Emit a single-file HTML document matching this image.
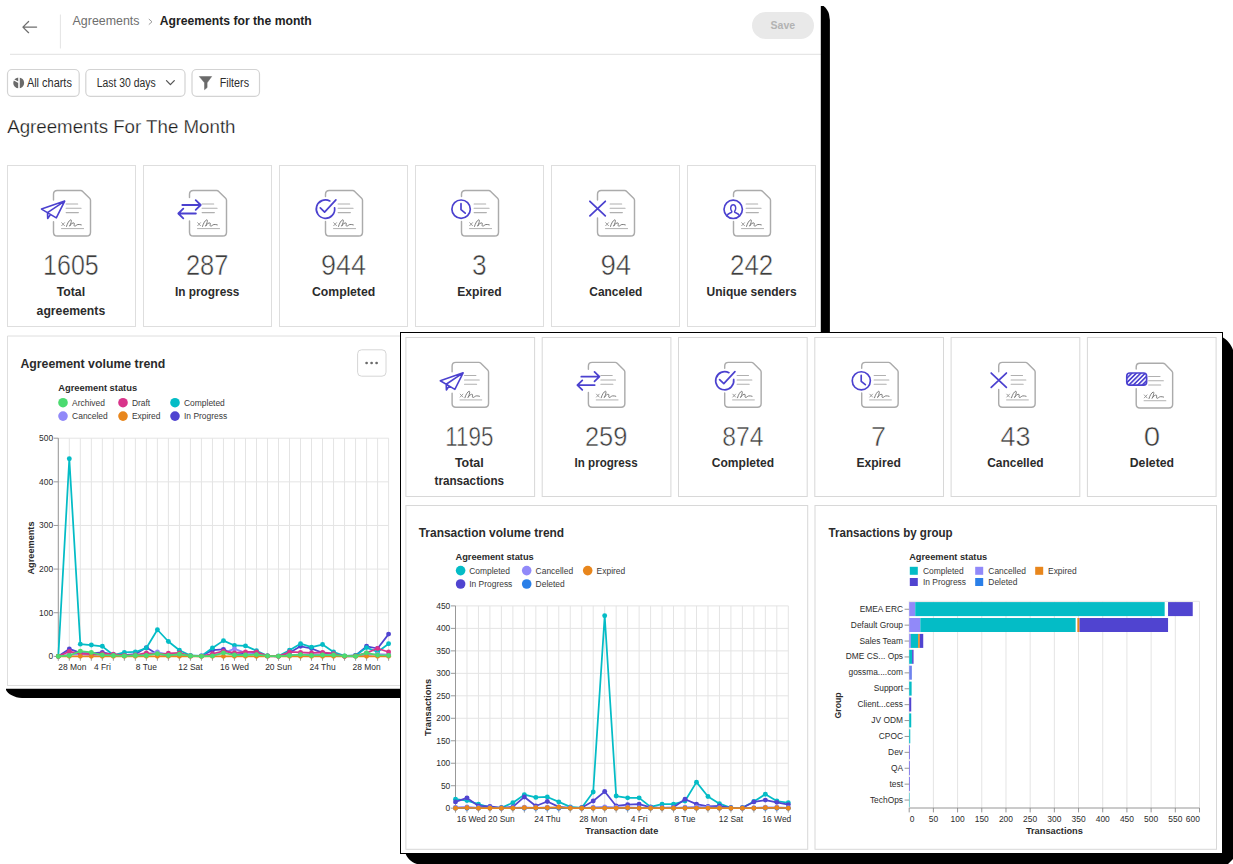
<!DOCTYPE html>
<html><head><meta charset="utf-8"><title>Agreements for the month</title>
<style>
html,body{margin:0;padding:0;background:#fff;}
body{width:1233px;height:864px;overflow:hidden;}
svg{display:block;font-family:"Liberation Sans", sans-serif;}
text{white-space:pre;}
.thin{stroke:#fff;stroke-width:0.5px;paint-order:fill stroke;}
.thin2{stroke:#fff;stroke-width:0.25px;paint-order:fill stroke;}
</style></head><body>
<svg width="1233" height="864" viewBox="0 0 1233 864">
<defs>
<pattern id="hatch" width="3.2" height="3.2" patternUnits="userSpaceOnUse" patternTransform="rotate(-45)">
<rect width="3.2" height="3.2" fill="#fff"/><rect width="3.2" height="1.7" fill="#4b41cf"/>
</pattern>
</defs>
<rect width="1233" height="864" fill="#fff"/>

<g id="panel1">
<path d="M36.6,27.1 H23 M28.6,21.5 L22.9,27.1 L28.6,32.7" fill="none" stroke="#6e6e6e" stroke-width="1.25" stroke-linecap="round" stroke-linejoin="round"/>
<line x1="60.4" y1="14.5" x2="60.4" y2="48.5" stroke="#e4e4e4" stroke-width="1" />
<line x1="10" y1="54.3" x2="821" y2="54.3" stroke="#e6e6e6" stroke-width="1.2" />
<text x="72.6" y="25.3" font-size="13.2" fill="#6e6e6e" font-weight="normal" text-anchor="start" textLength="66.9" lengthAdjust="spacingAndGlyphs" >Agreements</text>
<path d="M148.8,19 L152,21.8 L148.8,24.6" fill="none" stroke="#8e8e8e" stroke-width="0.9"/>
<text x="159.8" y="25.3" font-size="13.2" fill="#222" font-weight="bold" text-anchor="start" textLength="152" lengthAdjust="spacingAndGlyphs" >Agreements for the month</text>
<rect x="752" y="12" width="62" height="27" fill="#e9e9e9" rx="13.5" />
<text x="782.9" y="28.8" font-size="11.6" fill="#b3b3b3" font-weight="bold" text-anchor="middle" textLength="24.6" lengthAdjust="spacingAndGlyphs" >Save</text>
<rect x="7.5" y="69.5" width="71.7" height="26.8" fill="#fff" stroke="#d3d3d3" stroke-width="1.2" rx="4.5" />
<g transform="translate(18.7,82.9)"><circle r="5.45" fill="#6a6a6a"/><path d="M0.3,-6 V6" stroke="#fff" stroke-width="1.6"/><path d="M-5.6,-3.4 L0,-0.6" stroke="#fff" stroke-width="1.35"/></g>
<text x="26.9" y="86.8" font-size="12" fill="#2c2c2c" font-weight="normal" text-anchor="start" textLength="45" lengthAdjust="spacingAndGlyphs" >All charts</text>
<rect x="85.8" y="69.5" width="99.2" height="26.8" fill="#fff" stroke="#d3d3d3" stroke-width="1.2" rx="4.5" />
<text x="96.8" y="86.8" font-size="12" fill="#2c2c2c" font-weight="normal" text-anchor="start" textLength="58.9" lengthAdjust="spacingAndGlyphs" >Last 30 days</text>
<path d="M166.5,80.6 L170.4,84.6 L174.3,80.6" fill="none" stroke="#555" stroke-width="1.3" stroke-linecap="round" stroke-linejoin="round"/>
<rect x="192" y="69.5" width="67.5" height="26.8" fill="#fff" stroke="#d3d3d3" stroke-width="1.2" rx="4.5" />
<path d="M199.3,76.5 H211.7 L207.1,82.8 V87.6 L204.5,89.7 V82.8 Z" fill="#6a6a6a" stroke="#6a6a6a" stroke-width="0.5" stroke-linejoin="round"/>
<text x="219.7" y="86.8" font-size="12" fill="#2c2c2c" font-weight="normal" text-anchor="start" textLength="29.4" lengthAdjust="spacingAndGlyphs" >Filters</text>
<text x="7.2" y="133.4" font-size="18.6" fill="#1c1c1c" font-weight="normal" text-anchor="start" textLength="228.3" lengthAdjust="spacingAndGlyphs" class="thin2">Agreements For The Month</text>
<rect x="7.5" y="165.5" width="128" height="161" fill="#fff" stroke="#dedede" stroke-width="1" />
<g transform="translate(53.5,190.5) scale(1)" fill="none" stroke-linecap="round" stroke-linejoin="round">
<path d="M0,9.5 V3.8 Q0,0 3.8,0 H27.2 Q28.3,0 29.2,0.9 L36.1,7.8 Q37,8.7 37,9.8 V41.7 Q37,45.5 33.2,45.5 H3.8 Q0,45.5 0,41.7 V31.2" stroke="#ababab" stroke-width="1.45"/>
<path d="M12.6,13.4 H24.2 M12.6,17.8 H27.6 M12.6,22.1 H24.9" stroke="#b0b0b0" stroke-width="1.05"/>
<path d="M8.2,32.2 l2.8,3 M11,32.2 l-2.8,3" stroke="#8c8c8c" stroke-width="0.85"/>
<path d="M13,35.9 C13.8,33 15.6,29.7 17.3,29.3 C18.7,29.3 17.3,33.4 16.1,35.7 C17,33.8 19.6,31.7 20.6,32.5 C21.3,33.2 20,35.2 21,35.6 C22.2,35.8 23,34.3 24.4,34 C25.8,33.8 26.8,34.2 27.8,34.4" stroke="#7c7c7c" stroke-width="1"/>
<path d="M8,38.1 H30.1" stroke="#adadad" stroke-width="0.95"/>
<path d="M11.2,10.6 L-12,18.6 L2.8,27.4 Z M11.2,10.6 L-6,22.2 L-5.8,28 L-3,24" stroke="#4b41cf" stroke-width="1.6"/>
</g>
<text x="70.9" y="275.2" font-size="28.6" fill="#3d3d3d" font-weight="normal" text-anchor="middle" textLength="55.6" lengthAdjust="spacingAndGlyphs" class="thin">1605</text>
<text x="70.9" y="296.3" font-size="12.8" fill="#2b2b2b" font-weight="bold" text-anchor="middle" textLength="28.4" lengthAdjust="spacingAndGlyphs" >Total</text>
<text x="70.9" y="314.5" font-size="12.8" fill="#2b2b2b" font-weight="bold" text-anchor="middle" textLength="68.6" lengthAdjust="spacingAndGlyphs" >agreements</text>
<rect x="143.5" y="165.5" width="128" height="161" fill="#fff" stroke="#dedede" stroke-width="1" />
<g transform="translate(189.5,190.5) scale(1)" fill="none" stroke-linecap="round" stroke-linejoin="round">
<path d="M0,7 V3.8 Q0,0 3.8,0 H27.2 Q28.3,0 29.2,0.9 L36.1,7.8 Q37,8.7 37,9.8 V41.7 Q37,45.5 33.2,45.5 H3.8 Q0,45.5 0,41.7 V30.5" stroke="#ababab" stroke-width="1.45"/>
<path d="M12.6,13.4 H24.2 M12.6,17.8 H27.6 M12.6,22.1 H24.9" stroke="#b0b0b0" stroke-width="1.05"/>
<path d="M8.2,32.2 l2.8,3 M11,32.2 l-2.8,3" stroke="#8c8c8c" stroke-width="0.85"/>
<path d="M13,35.9 C13.8,33 15.6,29.7 17.3,29.3 C18.7,29.3 17.3,33.4 16.1,35.7 C17,33.8 19.6,31.7 20.6,32.5 C21.3,33.2 20,35.2 21,35.6 C22.2,35.8 23,34.3 24.4,34 C25.8,33.8 26.8,34.2 27.8,34.4" stroke="#7c7c7c" stroke-width="1"/>
<path d="M8,38.1 H30.1" stroke="#adadad" stroke-width="0.95"/>
<path d="M-7.2,14.5 H11 M6.2,9.7 L11.2,14.5 L6.2,19.3 M6.4,23 H-11 M-6.2,18.2 L-11.2,23 L-6.2,27.8" stroke="#4b41cf" stroke-width="1.8"/>
</g>
<text x="207.2" y="275.2" font-size="28.6" fill="#3d3d3d" font-weight="normal" text-anchor="middle" textLength="42.6" lengthAdjust="spacingAndGlyphs" class="thin">287</text>
<text x="207.2" y="296.3" font-size="12.8" fill="#2b2b2b" font-weight="bold" text-anchor="middle" textLength="64.4" lengthAdjust="spacingAndGlyphs" >In progress</text>
<rect x="279.5" y="165.5" width="128" height="161" fill="#fff" stroke="#dedede" stroke-width="1" />
<g transform="translate(325.5,190.5) scale(1)" fill="none" stroke-linecap="round" stroke-linejoin="round">
<path d="M0,6 V3.8 Q0,0 3.8,0 H27.2 Q28.3,0 29.2,0.9 L36.1,7.8 Q37,8.7 37,9.8 V41.7 Q37,45.5 33.2,45.5 H3.8 Q0,45.5 0,41.7 V31" stroke="#ababab" stroke-width="1.45"/>
<path d="M12.6,13.4 H24.2 M12.6,17.8 H27.6 M12.6,22.1 H24.9" stroke="#b0b0b0" stroke-width="1.05"/>
<path d="M8.2,32.2 l2.8,3 M11,32.2 l-2.8,3" stroke="#8c8c8c" stroke-width="0.85"/>
<path d="M13,35.9 C13.8,33 15.6,29.7 17.3,29.3 C18.7,29.3 17.3,33.4 16.1,35.7 C17,33.8 19.6,31.7 20.6,32.5 C21.3,33.2 20,35.2 21,35.6 C22.2,35.8 23,34.3 24.4,34 C25.8,33.8 26.8,34.2 27.8,34.4" stroke="#7c7c7c" stroke-width="1"/>
<path d="M8,38.1 H30.1" stroke="#adadad" stroke-width="0.95"/>
<path d="M4.32,10.48 A9.2,9.2 0 1 0 9.11,17.32" stroke="#4b41cf" stroke-width="1.7"/>
<path d="M-5.2,17.4 L-0.9,21.6 L10.4,9.4" stroke="#4b41cf" stroke-width="1.7"/>
</g>
<text x="343.6" y="275.2" font-size="28.6" fill="#3d3d3d" font-weight="normal" text-anchor="middle" textLength="45" lengthAdjust="spacingAndGlyphs" class="thin">944</text>
<text x="343.6" y="296.3" font-size="12.8" fill="#2b2b2b" font-weight="bold" text-anchor="middle" textLength="63.2" lengthAdjust="spacingAndGlyphs" >Completed</text>
<rect x="415.5" y="165.5" width="128" height="161" fill="#fff" stroke="#dedede" stroke-width="1" />
<g transform="translate(461.5,190.5) scale(1)" fill="none" stroke-linecap="round" stroke-linejoin="round">
<path d="M0,6 V3.8 Q0,0 3.8,0 H27.2 Q28.3,0 29.2,0.9 L36.1,7.8 Q37,8.7 37,9.8 V41.7 Q37,45.5 33.2,45.5 H3.8 Q0,45.5 0,41.7 V31" stroke="#ababab" stroke-width="1.45"/>
<path d="M12.6,13.4 H24.2 M12.6,17.8 H27.6 M12.6,22.1 H24.9" stroke="#b0b0b0" stroke-width="1.05"/>
<path d="M8.2,32.2 l2.8,3 M11,32.2 l-2.8,3" stroke="#8c8c8c" stroke-width="0.85"/>
<path d="M13,35.9 C13.8,33 15.6,29.7 17.3,29.3 C18.7,29.3 17.3,33.4 16.1,35.7 C17,33.8 19.6,31.7 20.6,32.5 C21.3,33.2 20,35.2 21,35.6 C22.2,35.8 23,34.3 24.4,34 C25.8,33.8 26.8,34.2 27.8,34.4" stroke="#7c7c7c" stroke-width="1"/>
<path d="M8,38.1 H30.1" stroke="#adadad" stroke-width="0.95"/>
<circle cx="-0.4" cy="18.7" r="9.2" stroke="#4b41cf" stroke-width="1.7"/>
<path d="M-0.5,13.2 V19.2 L3.7,22.6" stroke="#4b41cf" stroke-width="1.7"/>
</g>
<text x="479.4" y="275.2" font-size="28.6" fill="#3d3d3d" font-weight="normal" text-anchor="middle" textLength="14.6" lengthAdjust="spacingAndGlyphs" class="thin">3</text>
<text x="479.4" y="296.3" font-size="12.8" fill="#2b2b2b" font-weight="bold" text-anchor="middle" textLength="44.4" lengthAdjust="spacingAndGlyphs" >Expired</text>
<rect x="551.5" y="165.5" width="128" height="161" fill="#fff" stroke="#dedede" stroke-width="1" />
<g transform="translate(597.5,190.5) scale(1)" fill="none" stroke-linecap="round" stroke-linejoin="round">
<path d="M0,9.5 V3.8 Q0,0 3.8,0 H27.2 Q28.3,0 29.2,0.9 L36.1,7.8 Q37,8.7 37,9.8 V41.7 Q37,45.5 33.2,45.5 H3.8 Q0,45.5 0,41.7 V27.5" stroke="#ababab" stroke-width="1.45"/>
<path d="M12.6,13.4 H24.2 M12.6,17.8 H27.6 M12.6,22.1 H24.9" stroke="#b0b0b0" stroke-width="1.05"/>
<path d="M8.2,32.2 l2.8,3 M11,32.2 l-2.8,3" stroke="#8c8c8c" stroke-width="0.85"/>
<path d="M13,35.9 C13.8,33 15.6,29.7 17.3,29.3 C18.7,29.3 17.3,33.4 16.1,35.7 C17,33.8 19.6,31.7 20.6,32.5 C21.3,33.2 20,35.2 21,35.6 C22.2,35.8 23,34.3 24.4,34 C25.8,33.8 26.8,34.2 27.8,34.4" stroke="#7c7c7c" stroke-width="1"/>
<path d="M8,38.1 H30.1" stroke="#adadad" stroke-width="0.95"/>
<path d="M-7.6,10.8 L7.8,25.4 M7.8,10.8 L-7.6,25.4" stroke="#4b41cf" stroke-width="1.75"/>
</g>
<text x="615.8" y="275.2" font-size="28.6" fill="#3d3d3d" font-weight="normal" text-anchor="middle" textLength="30.8" lengthAdjust="spacingAndGlyphs" class="thin">94</text>
<text x="615.8" y="296.3" font-size="12.8" fill="#2b2b2b" font-weight="bold" text-anchor="middle" textLength="53" lengthAdjust="spacingAndGlyphs" >Canceled</text>
<rect x="687.5" y="165.5" width="128" height="161" fill="#fff" stroke="#dedede" stroke-width="1" />
<g transform="translate(733.5,190.5) scale(1)" fill="none" stroke-linecap="round" stroke-linejoin="round">
<path d="M0,6 V3.8 Q0,0 3.8,0 H27.2 Q28.3,0 29.2,0.9 L36.1,7.8 Q37,8.7 37,9.8 V41.7 Q37,45.5 33.2,45.5 H3.8 Q0,45.5 0,41.7 V31" stroke="#ababab" stroke-width="1.45"/>
<path d="M12.6,13.4 H24.2 M12.6,17.8 H27.6 M12.6,22.1 H24.9" stroke="#b0b0b0" stroke-width="1.05"/>
<path d="M8.2,32.2 l2.8,3 M11,32.2 l-2.8,3" stroke="#8c8c8c" stroke-width="0.85"/>
<path d="M13,35.9 C13.8,33 15.6,29.7 17.3,29.3 C18.7,29.3 17.3,33.4 16.1,35.7 C17,33.8 19.6,31.7 20.6,32.5 C21.3,33.2 20,35.2 21,35.6 C22.2,35.8 23,34.3 24.4,34 C25.8,33.8 26.8,34.2 27.8,34.4" stroke="#7c7c7c" stroke-width="1"/>
<path d="M8,38.1 H30.1" stroke="#adadad" stroke-width="0.95"/>
<circle cx="-0.3" cy="18.8" r="9.2" stroke="#4b41cf" stroke-width="1.65"/>
<path d="M-6.4,25.2 C-6,23.2 -3.6,22.6 -2.2,22 C-1.4,21.6 -1.6,20.8 -2.2,20 C-3.2,18.6 -3.2,14.2 -0.3,14.2 C2.6,14.2 2.6,18.6 1.6,20 C1,20.8 0.8,21.6 1.6,22 C3,22.6 5.4,23.2 5.8,25.2" stroke="#4b41cf" stroke-width="1.45"/>
</g>
<text x="751.6" y="275.2" font-size="28.6" fill="#3d3d3d" font-weight="normal" text-anchor="middle" textLength="43.2" lengthAdjust="spacingAndGlyphs" class="thin">242</text>
<text x="751.6" y="296.3" font-size="12.8" fill="#2b2b2b" font-weight="bold" text-anchor="middle" textLength="90" lengthAdjust="spacingAndGlyphs" >Unique senders</text>
<path d="M7.5,686 V336 H830" fill="none" stroke="#dedede" stroke-width="1"/>
<line x1="7.5" y1="685.5" x2="402" y2="685.5" stroke="#dedede" stroke-width="1" />
<text x="20.4" y="368.4" font-size="13.4" fill="#2b2b2b" font-weight="bold" text-anchor="start" textLength="145" lengthAdjust="spacingAndGlyphs" >Agreement volume trend</text>
<rect x="357.6" y="349.8" width="28.4" height="26.4" fill="#fff" stroke="#d6d6d6" stroke-width="1" rx="4" />
<g fill="#6a6a6a"><circle cx="366.6" cy="363" r="1.35"/><circle cx="371.6" cy="363" r="1.35"/><circle cx="376.6" cy="363" r="1.35"/></g>
<text x="58.3" y="391" font-size="9.4" fill="#2b2b2b" font-weight="bold" text-anchor="start" textLength="78.8" lengthAdjust="spacingAndGlyphs" >Agreement status</text>
<circle cx="63" cy="402.7" r="4.8" fill="#4bdb70"/>
<text x="72.1" y="405.59999999999997" font-size="8.45" fill="#3a3a3a" font-weight="normal" text-anchor="start" >Archived</text>
<circle cx="123" cy="402.7" r="4.8" fill="#d9348b"/>
<text x="131.9" y="405.59999999999997" font-size="8.45" fill="#3a3a3a" font-weight="normal" text-anchor="start" >Draft</text>
<circle cx="175" cy="402.7" r="4.8" fill="#04bcc6"/>
<text x="184" y="405.59999999999997" font-size="8.45" fill="#3a3a3a" font-weight="normal" text-anchor="start" >Completed</text>
<circle cx="63" cy="416.1" r="4.8" fill="#9189f9"/>
<text x="72.1" y="419.0" font-size="8.45" fill="#3a3a3a" font-weight="normal" text-anchor="start" >Canceled</text>
<circle cx="123" cy="416.1" r="4.8" fill="#e8861c"/>
<text x="131.9" y="419.0" font-size="8.45" fill="#3a3a3a" font-weight="normal" text-anchor="start" >Expired</text>
<circle cx="175" cy="416.1" r="4.8" fill="#5044d0"/>
<text x="184" y="419.0" font-size="8.45" fill="#3a3a3a" font-weight="normal" text-anchor="start" >In Progress</text>
<path d="M58.30,438.2 V656.35 M69.31,438.2 V656.35 M80.32,438.2 V656.35 M91.33,438.2 V656.35 M102.34,438.2 V656.35 M113.35,438.2 V656.35 M124.36,438.2 V656.35 M135.37,438.2 V656.35 M146.38,438.2 V656.35 M157.39,438.2 V656.35 M168.40,438.2 V656.35 M179.41,438.2 V656.35 M190.42,438.2 V656.35 M201.43,438.2 V656.35 M212.44,438.2 V656.35 M223.45,438.2 V656.35 M234.46,438.2 V656.35 M245.47,438.2 V656.35 M256.48,438.2 V656.35 M267.49,438.2 V656.35 M278.50,438.2 V656.35 M289.51,438.2 V656.35 M300.52,438.2 V656.35 M311.53,438.2 V656.35 M322.54,438.2 V656.35 M333.55,438.2 V656.35 M344.56,438.2 V656.35 M355.57,438.2 V656.35 M366.58,438.2 V656.35 M377.59,438.2 V656.35 M388.60,438.2 V656.35 M58.3,656.35 H388.6 M58.3,612.72 H388.6 M58.3,569.09 H388.6 M58.3,525.46 H388.6 M58.3,481.83 H388.6 M58.3,438.20 H388.6" stroke="#e4e4e4" stroke-width="1" fill="none"/>
<text x="53.099999999999994" y="659.35" font-size="8.45" fill="#2c2c2c" font-weight="normal" text-anchor="end" >0</text>
<text x="53.099999999999994" y="615.72" font-size="8.45" fill="#2c2c2c" font-weight="normal" text-anchor="end" >100</text>
<text x="53.099999999999994" y="572.09" font-size="8.45" fill="#2c2c2c" font-weight="normal" text-anchor="end" >200</text>
<text x="53.099999999999994" y="528.46" font-size="8.45" fill="#2c2c2c" font-weight="normal" text-anchor="end" >300</text>
<text x="53.099999999999994" y="484.83" font-size="8.45" fill="#2c2c2c" font-weight="normal" text-anchor="end" >400</text>
<text x="53.099999999999994" y="441.2" font-size="8.45" fill="#2c2c2c" font-weight="normal" text-anchor="end" >500</text>
<path d="M53.699999999999996,656.35 H58.3 M53.699999999999996,612.72 H58.3 M53.699999999999996,569.09 H58.3 M53.699999999999996,525.46 H58.3 M53.699999999999996,481.83 H58.3 M53.699999999999996,438.20 H58.3 M58.30,656.35 V660.75 M69.31,656.35 V660.75 M80.32,656.35 V660.75 M91.33,656.35 V660.75 M102.34,656.35 V660.75 M113.35,656.35 V660.75 M124.36,656.35 V660.75 M135.37,656.35 V660.75 M146.38,656.35 V660.75 M157.39,656.35 V660.75 M168.40,656.35 V660.75 M179.41,656.35 V660.75 M190.42,656.35 V660.75 M201.43,656.35 V660.75 M212.44,656.35 V660.75 M223.45,656.35 V660.75 M234.46,656.35 V660.75 M245.47,656.35 V660.75 M256.48,656.35 V660.75 M267.49,656.35 V660.75 M278.50,656.35 V660.75 M289.51,656.35 V660.75 M300.52,656.35 V660.75 M311.53,656.35 V660.75 M322.54,656.35 V660.75 M333.55,656.35 V660.75 M344.56,656.35 V660.75 M355.57,656.35 V660.75 M366.58,656.35 V660.75 M377.59,656.35 V660.75 M388.60,656.35 V660.75 M58.3,438.2 V656.35 H388.6" stroke="#909090" stroke-width="0.9" fill="none"/>
<text x="58.3" y="669.6" font-size="8.45" fill="#2c2c2c" font-weight="normal" text-anchor="start" >28 Mon</text>
<text x="102.34" y="669.6" font-size="8.45" fill="#2c2c2c" font-weight="normal" text-anchor="middle" >4 Fri</text>
<text x="146.38" y="669.6" font-size="8.45" fill="#2c2c2c" font-weight="normal" text-anchor="middle" >8 Tue</text>
<text x="190.42" y="669.6" font-size="8.45" fill="#2c2c2c" font-weight="normal" text-anchor="middle" >12 Sat</text>
<text x="234.46" y="669.6" font-size="8.45" fill="#2c2c2c" font-weight="normal" text-anchor="middle" >16 Wed</text>
<text x="278.5" y="669.6" font-size="8.45" fill="#2c2c2c" font-weight="normal" text-anchor="middle" >20 Sun</text>
<text x="322.54" y="669.6" font-size="8.45" fill="#2c2c2c" font-weight="normal" text-anchor="middle" >24 Thu</text>
<text x="366.58" y="669.6" font-size="8.45" fill="#2c2c2c" font-weight="normal" text-anchor="middle" >28 Mon</text>
<path d="M58.30,656.35 L69.31,648.93 L80.32,652.86 L91.33,653.30 L102.34,652.42 L113.35,654.60 L124.36,655.04 L135.37,654.17 L146.38,647.62 L157.39,654.17 L168.40,655.04 L179.41,654.17 L190.42,655.91 L201.43,655.91 L212.44,650.24 L223.45,649.37 L234.46,654.60 L245.47,653.73 L256.48,652.86 L267.49,655.91 L278.50,656.35 L289.51,652.86 L300.52,646.32 L311.53,648.50 L322.54,652.86 L333.55,653.73 L344.56,656.35 L355.57,655.48 L366.58,646.32 L377.59,648.50 L388.60,634.10" stroke="#5044d0" stroke-width="1.75" fill="none" stroke-linejoin="round"/>
<g fill="#5044d0"><circle cx="58.30" cy="656.35" r="2.45"/><circle cx="69.31" cy="648.93" r="2.45"/><circle cx="80.32" cy="652.86" r="2.45"/><circle cx="91.33" cy="653.30" r="2.45"/><circle cx="102.34" cy="652.42" r="2.45"/><circle cx="113.35" cy="654.60" r="2.45"/><circle cx="124.36" cy="655.04" r="2.45"/><circle cx="135.37" cy="654.17" r="2.45"/><circle cx="146.38" cy="647.62" r="2.45"/><circle cx="157.39" cy="654.17" r="2.45"/><circle cx="168.40" cy="655.04" r="2.45"/><circle cx="179.41" cy="654.17" r="2.45"/><circle cx="190.42" cy="655.91" r="2.45"/><circle cx="201.43" cy="655.91" r="2.45"/><circle cx="212.44" cy="650.24" r="2.45"/><circle cx="223.45" cy="649.37" r="2.45"/><circle cx="234.46" cy="654.60" r="2.45"/><circle cx="245.47" cy="653.73" r="2.45"/><circle cx="256.48" cy="652.86" r="2.45"/><circle cx="267.49" cy="655.91" r="2.45"/><circle cx="278.50" cy="656.35" r="2.45"/><circle cx="289.51" cy="652.86" r="2.45"/><circle cx="300.52" cy="646.32" r="2.45"/><circle cx="311.53" cy="648.50" r="2.45"/><circle cx="322.54" cy="652.86" r="2.45"/><circle cx="333.55" cy="653.73" r="2.45"/><circle cx="344.56" cy="656.35" r="2.45"/><circle cx="355.57" cy="655.48" r="2.45"/><circle cx="366.58" cy="646.32" r="2.45"/><circle cx="377.59" cy="648.50" r="2.45"/><circle cx="388.60" cy="634.10" r="2.45"/></g>
<path d="M58.30,656.35 L69.31,458.71 L80.32,644.13 L91.33,645.01 L102.34,646.32 L113.35,655.04 L124.36,652.42 L135.37,651.99 L146.38,648.06 L157.39,629.74 L168.40,641.52 L179.41,650.24 L190.42,655.48 L201.43,655.91 L212.44,648.06 L223.45,640.64 L234.46,645.44 L245.47,645.88 L256.48,650.68 L267.49,655.91 L278.50,655.91 L289.51,650.24 L300.52,643.70 L311.53,647.19 L322.54,644.57 L333.55,651.99 L344.56,655.91 L355.57,655.48 L366.58,647.62 L377.59,651.99 L388.60,643.70" stroke="#04bcc6" stroke-width="1.75" fill="none" stroke-linejoin="round"/>
<g fill="#04bcc6"><circle cx="58.30" cy="656.35" r="2.45"/><circle cx="69.31" cy="458.71" r="2.45"/><circle cx="80.32" cy="644.13" r="2.45"/><circle cx="91.33" cy="645.01" r="2.45"/><circle cx="102.34" cy="646.32" r="2.45"/><circle cx="113.35" cy="655.04" r="2.45"/><circle cx="124.36" cy="652.42" r="2.45"/><circle cx="135.37" cy="651.99" r="2.45"/><circle cx="146.38" cy="648.06" r="2.45"/><circle cx="157.39" cy="629.74" r="2.45"/><circle cx="168.40" cy="641.52" r="2.45"/><circle cx="179.41" cy="650.24" r="2.45"/><circle cx="190.42" cy="655.48" r="2.45"/><circle cx="201.43" cy="655.91" r="2.45"/><circle cx="212.44" cy="648.06" r="2.45"/><circle cx="223.45" cy="640.64" r="2.45"/><circle cx="234.46" cy="645.44" r="2.45"/><circle cx="245.47" cy="645.88" r="2.45"/><circle cx="256.48" cy="650.68" r="2.45"/><circle cx="267.49" cy="655.91" r="2.45"/><circle cx="278.50" cy="655.91" r="2.45"/><circle cx="289.51" cy="650.24" r="2.45"/><circle cx="300.52" cy="643.70" r="2.45"/><circle cx="311.53" cy="647.19" r="2.45"/><circle cx="322.54" cy="644.57" r="2.45"/><circle cx="333.55" cy="651.99" r="2.45"/><circle cx="344.56" cy="655.91" r="2.45"/><circle cx="355.57" cy="655.48" r="2.45"/><circle cx="366.58" cy="647.62" r="2.45"/><circle cx="377.59" cy="651.99" r="2.45"/><circle cx="388.60" cy="643.70" r="2.45"/></g>
<path d="M58.30,656.35 L69.31,654.60 L80.32,654.17 L91.33,655.04 L102.34,654.60 L113.35,655.48 L124.36,655.91 L135.37,655.04 L146.38,654.60 L157.39,651.99 L168.40,654.60 L179.41,655.04 L190.42,656.35 L201.43,655.91 L212.44,655.04 L223.45,652.86 L234.46,648.93 L245.47,652.86 L256.48,654.60 L267.49,656.35 L278.50,656.35 L289.51,655.04 L300.52,654.60 L311.53,654.17 L322.54,654.60 L333.55,655.04 L344.56,656.35 L355.57,656.35 L366.58,655.04 L377.59,654.17 L388.60,654.60" stroke="#9189f9" stroke-width="1.75" fill="none" stroke-linejoin="round"/>
<g fill="#9189f9"><circle cx="58.30" cy="656.35" r="2.45"/><circle cx="69.31" cy="654.60" r="2.45"/><circle cx="80.32" cy="654.17" r="2.45"/><circle cx="91.33" cy="655.04" r="2.45"/><circle cx="102.34" cy="654.60" r="2.45"/><circle cx="113.35" cy="655.48" r="2.45"/><circle cx="124.36" cy="655.91" r="2.45"/><circle cx="135.37" cy="655.04" r="2.45"/><circle cx="146.38" cy="654.60" r="2.45"/><circle cx="157.39" cy="651.99" r="2.45"/><circle cx="168.40" cy="654.60" r="2.45"/><circle cx="179.41" cy="655.04" r="2.45"/><circle cx="190.42" cy="656.35" r="2.45"/><circle cx="201.43" cy="655.91" r="2.45"/><circle cx="212.44" cy="655.04" r="2.45"/><circle cx="223.45" cy="652.86" r="2.45"/><circle cx="234.46" cy="648.93" r="2.45"/><circle cx="245.47" cy="652.86" r="2.45"/><circle cx="256.48" cy="654.60" r="2.45"/><circle cx="267.49" cy="656.35" r="2.45"/><circle cx="278.50" cy="656.35" r="2.45"/><circle cx="289.51" cy="655.04" r="2.45"/><circle cx="300.52" cy="654.60" r="2.45"/><circle cx="311.53" cy="654.17" r="2.45"/><circle cx="322.54" cy="654.60" r="2.45"/><circle cx="333.55" cy="655.04" r="2.45"/><circle cx="344.56" cy="656.35" r="2.45"/><circle cx="355.57" cy="656.35" r="2.45"/><circle cx="366.58" cy="655.04" r="2.45"/><circle cx="377.59" cy="654.17" r="2.45"/><circle cx="388.60" cy="654.60" r="2.45"/></g>
<path d="M58.30,656.35 L69.31,651.55 L80.32,653.73 L91.33,654.17 L102.34,653.73 L113.35,654.17 L124.36,655.48 L135.37,655.04 L146.38,652.86 L157.39,654.60 L168.40,653.30 L179.41,652.86 L190.42,655.91 L201.43,656.35 L212.44,653.73 L223.45,651.11 L234.46,652.86 L245.47,651.99 L256.48,651.99 L267.49,655.91 L278.50,656.35 L289.51,651.99 L300.52,652.42 L311.53,652.86 L322.54,652.42 L333.55,653.73 L344.56,656.35 L355.57,655.91 L366.58,652.86 L377.59,648.50 L388.60,651.99" stroke="#d9348b" stroke-width="1.75" fill="none" stroke-linejoin="round"/>
<g fill="#d9348b"><circle cx="58.30" cy="656.35" r="2.45"/><circle cx="69.31" cy="651.55" r="2.45"/><circle cx="80.32" cy="653.73" r="2.45"/><circle cx="91.33" cy="654.17" r="2.45"/><circle cx="102.34" cy="653.73" r="2.45"/><circle cx="113.35" cy="654.17" r="2.45"/><circle cx="124.36" cy="655.48" r="2.45"/><circle cx="135.37" cy="655.04" r="2.45"/><circle cx="146.38" cy="652.86" r="2.45"/><circle cx="157.39" cy="654.60" r="2.45"/><circle cx="168.40" cy="653.30" r="2.45"/><circle cx="179.41" cy="652.86" r="2.45"/><circle cx="190.42" cy="655.91" r="2.45"/><circle cx="201.43" cy="656.35" r="2.45"/><circle cx="212.44" cy="653.73" r="2.45"/><circle cx="223.45" cy="651.11" r="2.45"/><circle cx="234.46" cy="652.86" r="2.45"/><circle cx="245.47" cy="651.99" r="2.45"/><circle cx="256.48" cy="651.99" r="2.45"/><circle cx="267.49" cy="655.91" r="2.45"/><circle cx="278.50" cy="656.35" r="2.45"/><circle cx="289.51" cy="651.99" r="2.45"/><circle cx="300.52" cy="652.42" r="2.45"/><circle cx="311.53" cy="652.86" r="2.45"/><circle cx="322.54" cy="652.42" r="2.45"/><circle cx="333.55" cy="653.73" r="2.45"/><circle cx="344.56" cy="656.35" r="2.45"/><circle cx="355.57" cy="655.91" r="2.45"/><circle cx="366.58" cy="652.86" r="2.45"/><circle cx="377.59" cy="648.50" r="2.45"/><circle cx="388.60" cy="651.99" r="2.45"/></g>
<path d="M58.30,656.35 L69.31,656.35 L80.32,656.35 L91.33,656.35 L102.34,656.35 L113.35,656.35 L124.36,656.35 L135.37,656.35 L146.38,656.35 L157.39,656.35 L168.40,656.35 L179.41,656.35 L190.42,656.35 L201.43,656.35 L212.44,656.35 L223.45,656.35 L234.46,656.35 L245.47,656.35 L256.48,656.35 L267.49,656.35 L278.50,656.35 L289.51,656.35 L300.52,656.35 L311.53,656.35 L322.54,656.35 L333.55,656.35 L344.56,656.35 L355.57,656.35 L366.58,656.35 L377.59,656.35 L388.60,656.35" stroke="#e8861c" stroke-width="1.75" fill="none" stroke-linejoin="round"/>
<g fill="#e8861c"><circle cx="58.30" cy="656.35" r="2.45"/><circle cx="69.31" cy="656.35" r="2.45"/><circle cx="80.32" cy="656.35" r="2.45"/><circle cx="91.33" cy="656.35" r="2.45"/><circle cx="102.34" cy="656.35" r="2.45"/><circle cx="113.35" cy="656.35" r="2.45"/><circle cx="124.36" cy="656.35" r="2.45"/><circle cx="135.37" cy="656.35" r="2.45"/><circle cx="146.38" cy="656.35" r="2.45"/><circle cx="157.39" cy="656.35" r="2.45"/><circle cx="168.40" cy="656.35" r="2.45"/><circle cx="179.41" cy="656.35" r="2.45"/><circle cx="190.42" cy="656.35" r="2.45"/><circle cx="201.43" cy="656.35" r="2.45"/><circle cx="212.44" cy="656.35" r="2.45"/><circle cx="223.45" cy="656.35" r="2.45"/><circle cx="234.46" cy="656.35" r="2.45"/><circle cx="245.47" cy="656.35" r="2.45"/><circle cx="256.48" cy="656.35" r="2.45"/><circle cx="267.49" cy="656.35" r="2.45"/><circle cx="278.50" cy="656.35" r="2.45"/><circle cx="289.51" cy="656.35" r="2.45"/><circle cx="300.52" cy="656.35" r="2.45"/><circle cx="311.53" cy="656.35" r="2.45"/><circle cx="322.54" cy="656.35" r="2.45"/><circle cx="333.55" cy="656.35" r="2.45"/><circle cx="344.56" cy="656.35" r="2.45"/><circle cx="355.57" cy="656.35" r="2.45"/><circle cx="366.58" cy="656.35" r="2.45"/><circle cx="377.59" cy="656.35" r="2.45"/><circle cx="388.60" cy="656.35" r="2.45"/></g>
<path d="M58.30,656.35 L69.31,655.48 L80.32,651.11 L91.33,652.42 L102.34,655.04 L113.35,655.48 L124.36,655.91 L135.37,655.48 L146.38,655.48 L157.39,653.73 L168.40,655.48 L179.41,654.17 L190.42,655.91 L201.43,656.35 L212.44,655.91 L223.45,652.86 L234.46,655.04 L245.47,655.04 L256.48,654.60 L267.49,655.91 L278.50,656.35 L289.51,655.48 L300.52,654.60 L311.53,655.48 L322.54,655.04 L333.55,655.04 L344.56,655.91 L355.57,656.35 L366.58,652.86 L377.59,655.04 L388.60,655.48" stroke="#4bdb70" stroke-width="1.75" fill="none" stroke-linejoin="round"/>
<g fill="#4bdb70"><circle cx="58.30" cy="656.35" r="2.45"/><circle cx="69.31" cy="655.48" r="2.45"/><circle cx="80.32" cy="651.11" r="2.45"/><circle cx="91.33" cy="652.42" r="2.45"/><circle cx="102.34" cy="655.04" r="2.45"/><circle cx="113.35" cy="655.48" r="2.45"/><circle cx="124.36" cy="655.91" r="2.45"/><circle cx="135.37" cy="655.48" r="2.45"/><circle cx="146.38" cy="655.48" r="2.45"/><circle cx="157.39" cy="653.73" r="2.45"/><circle cx="168.40" cy="655.48" r="2.45"/><circle cx="179.41" cy="654.17" r="2.45"/><circle cx="190.42" cy="655.91" r="2.45"/><circle cx="201.43" cy="656.35" r="2.45"/><circle cx="212.44" cy="655.91" r="2.45"/><circle cx="223.45" cy="652.86" r="2.45"/><circle cx="234.46" cy="655.04" r="2.45"/><circle cx="245.47" cy="655.04" r="2.45"/><circle cx="256.48" cy="654.60" r="2.45"/><circle cx="267.49" cy="655.91" r="2.45"/><circle cx="278.50" cy="656.35" r="2.45"/><circle cx="289.51" cy="655.48" r="2.45"/><circle cx="300.52" cy="654.60" r="2.45"/><circle cx="311.53" cy="655.48" r="2.45"/><circle cx="322.54" cy="655.04" r="2.45"/><circle cx="333.55" cy="655.04" r="2.45"/><circle cx="344.56" cy="655.91" r="2.45"/><circle cx="355.57" cy="656.35" r="2.45"/><circle cx="366.58" cy="652.86" r="2.45"/><circle cx="377.59" cy="655.04" r="2.45"/><circle cx="388.60" cy="655.48" r="2.45"/></g>
<text transform="translate(33.6,548) rotate(-90)" font-size="9.2" fill="#2c2c2c" font-weight="bold" text-anchor="middle" textLength="53" lengthAdjust="spacingAndGlyphs">Agreements</text>
</g>
<path d="M820.8,6.1 H823.6 C826.4,8.4 828.4,11.6 829,14 L829.9,20 V333 H820.8 Z" fill="#000"/>
<path d="M6,688.8 H401 V698 H22 C14,697.6 8,694 6,690 Z" fill="#000"/>
<g id="panel2">
<path d="M1222,337 C1227,339 1231.5,345 1233,350 V859 L1228,864 H417 C411,862 407,858 405.6,853.5 H1222 Z" fill="#000"/>
<rect x="400.5" y="332.5" width="822" height="521" fill="#fff" stroke="#000" stroke-width="1" />
<rect x="405.9" y="337.5" width="128.7" height="159" fill="#fff" stroke="#d8d8d8" stroke-width="1" />
<g transform="translate(452.09999999999997,362.4) scale(0.985)" fill="none" stroke-linecap="round" stroke-linejoin="round">
<path d="M0,9.5 V3.8 Q0,0 3.8,0 H27.2 Q28.3,0 29.2,0.9 L36.1,7.8 Q37,8.7 37,9.8 V41.7 Q37,45.5 33.2,45.5 H3.8 Q0,45.5 0,41.7 V31.2" stroke="#ababab" stroke-width="1.45"/>
<path d="M12.6,13.4 H24.2 M12.6,17.8 H27.6 M12.6,22.1 H24.9" stroke="#b0b0b0" stroke-width="1.05"/>
<path d="M8.2,32.2 l2.8,3 M11,32.2 l-2.8,3" stroke="#8c8c8c" stroke-width="0.85"/>
<path d="M13,35.9 C13.8,33 15.6,29.7 17.3,29.3 C18.7,29.3 17.3,33.4 16.1,35.7 C17,33.8 19.6,31.7 20.6,32.5 C21.3,33.2 20,35.2 21,35.6 C22.2,35.8 23,34.3 24.4,34 C25.8,33.8 26.8,34.2 27.8,34.4" stroke="#7c7c7c" stroke-width="1"/>
<path d="M8,38.1 H30.1" stroke="#adadad" stroke-width="0.95"/>
<path d="M11.2,10.6 L-12,18.6 L2.8,27.4 Z M11.2,10.6 L-6,22.2 L-5.8,28 L-3,24" stroke="#4b41cf" stroke-width="1.6"/>
</g>
<text x="469.3" y="445.5" font-size="27.8" fill="#3d3d3d" font-weight="normal" text-anchor="middle" textLength="48" lengthAdjust="spacingAndGlyphs" class="thin">1195</text>
<text x="469.3" y="466.8" font-size="12.8" fill="#2b2b2b" font-weight="bold" text-anchor="middle" textLength="28.8" lengthAdjust="spacingAndGlyphs" >Total</text>
<text x="469.3" y="485.2" font-size="12.8" fill="#2b2b2b" font-weight="bold" text-anchor="middle" textLength="69.6" lengthAdjust="spacingAndGlyphs" >transactions</text>
<rect x="542.2" y="337.5" width="128.7" height="159" fill="#fff" stroke="#d8d8d8" stroke-width="1" />
<g transform="translate(588.4000000000001,362.4) scale(0.985)" fill="none" stroke-linecap="round" stroke-linejoin="round">
<path d="M0,7 V3.8 Q0,0 3.8,0 H27.2 Q28.3,0 29.2,0.9 L36.1,7.8 Q37,8.7 37,9.8 V41.7 Q37,45.5 33.2,45.5 H3.8 Q0,45.5 0,41.7 V30.5" stroke="#ababab" stroke-width="1.45"/>
<path d="M12.6,13.4 H24.2 M12.6,17.8 H27.6 M12.6,22.1 H24.9" stroke="#b0b0b0" stroke-width="1.05"/>
<path d="M8.2,32.2 l2.8,3 M11,32.2 l-2.8,3" stroke="#8c8c8c" stroke-width="0.85"/>
<path d="M13,35.9 C13.8,33 15.6,29.7 17.3,29.3 C18.7,29.3 17.3,33.4 16.1,35.7 C17,33.8 19.6,31.7 20.6,32.5 C21.3,33.2 20,35.2 21,35.6 C22.2,35.8 23,34.3 24.4,34 C25.8,33.8 26.8,34.2 27.8,34.4" stroke="#7c7c7c" stroke-width="1"/>
<path d="M8,38.1 H30.1" stroke="#adadad" stroke-width="0.95"/>
<path d="M-7.2,14.5 H11 M6.2,9.7 L11.2,14.5 L6.2,19.3 M6.4,23 H-11 M-6.2,18.2 L-11.2,23 L-6.2,27.8" stroke="#4b41cf" stroke-width="1.8"/>
</g>
<text x="606.1" y="445.5" font-size="27.8" fill="#3d3d3d" font-weight="normal" text-anchor="middle" textLength="42.4" lengthAdjust="spacingAndGlyphs" class="thin">259</text>
<text x="606.1" y="466.8" font-size="12.8" fill="#2b2b2b" font-weight="bold" text-anchor="middle" textLength="63" lengthAdjust="spacingAndGlyphs" >In progress</text>
<rect x="678.5" y="337.5" width="128.7" height="159" fill="#fff" stroke="#d8d8d8" stroke-width="1" />
<g transform="translate(724.7,362.4) scale(0.985)" fill="none" stroke-linecap="round" stroke-linejoin="round">
<path d="M0,6 V3.8 Q0,0 3.8,0 H27.2 Q28.3,0 29.2,0.9 L36.1,7.8 Q37,8.7 37,9.8 V41.7 Q37,45.5 33.2,45.5 H3.8 Q0,45.5 0,41.7 V31" stroke="#ababab" stroke-width="1.45"/>
<path d="M12.6,13.4 H24.2 M12.6,17.8 H27.6 M12.6,22.1 H24.9" stroke="#b0b0b0" stroke-width="1.05"/>
<path d="M8.2,32.2 l2.8,3 M11,32.2 l-2.8,3" stroke="#8c8c8c" stroke-width="0.85"/>
<path d="M13,35.9 C13.8,33 15.6,29.7 17.3,29.3 C18.7,29.3 17.3,33.4 16.1,35.7 C17,33.8 19.6,31.7 20.6,32.5 C21.3,33.2 20,35.2 21,35.6 C22.2,35.8 23,34.3 24.4,34 C25.8,33.8 26.8,34.2 27.8,34.4" stroke="#7c7c7c" stroke-width="1"/>
<path d="M8,38.1 H30.1" stroke="#adadad" stroke-width="0.95"/>
<path d="M4.32,10.48 A9.2,9.2 0 1 0 9.11,17.32" stroke="#4b41cf" stroke-width="1.7"/>
<path d="M-5.2,17.4 L-0.9,21.6 L10.4,9.4" stroke="#4b41cf" stroke-width="1.7"/>
</g>
<text x="742.9" y="445.5" font-size="27.8" fill="#3d3d3d" font-weight="normal" text-anchor="middle" textLength="41.3" lengthAdjust="spacingAndGlyphs" class="thin">874</text>
<text x="742.9" y="466.8" font-size="12.8" fill="#2b2b2b" font-weight="bold" text-anchor="middle" textLength="62.2" lengthAdjust="spacingAndGlyphs" >Completed</text>
<rect x="814.8" y="337.5" width="128.7" height="159" fill="#fff" stroke="#d8d8d8" stroke-width="1" />
<g transform="translate(861.6999999999999,362.4) scale(0.985)" fill="none" stroke-linecap="round" stroke-linejoin="round">
<path d="M0,6 V3.8 Q0,0 3.8,0 H27.2 Q28.3,0 29.2,0.9 L36.1,7.8 Q37,8.7 37,9.8 V41.7 Q37,45.5 33.2,45.5 H3.8 Q0,45.5 0,41.7 V31" stroke="#ababab" stroke-width="1.45"/>
<path d="M12.6,13.4 H24.2 M12.6,17.8 H27.6 M12.6,22.1 H24.9" stroke="#b0b0b0" stroke-width="1.05"/>
<path d="M8.2,32.2 l2.8,3 M11,32.2 l-2.8,3" stroke="#8c8c8c" stroke-width="0.85"/>
<path d="M13,35.9 C13.8,33 15.6,29.7 17.3,29.3 C18.7,29.3 17.3,33.4 16.1,35.7 C17,33.8 19.6,31.7 20.6,32.5 C21.3,33.2 20,35.2 21,35.6 C22.2,35.8 23,34.3 24.4,34 C25.8,33.8 26.8,34.2 27.8,34.4" stroke="#7c7c7c" stroke-width="1"/>
<path d="M8,38.1 H30.1" stroke="#adadad" stroke-width="0.95"/>
<circle cx="-0.4" cy="18.7" r="9.2" stroke="#4b41cf" stroke-width="1.7"/>
<path d="M-0.5,13.2 V19.2 L3.7,22.6" stroke="#4b41cf" stroke-width="1.7"/>
</g>
<text x="878.6" y="445.5" font-size="27.8" fill="#3d3d3d" font-weight="normal" text-anchor="middle" textLength="15" lengthAdjust="spacingAndGlyphs" class="thin">7</text>
<text x="878.6" y="466.8" font-size="12.8" fill="#2b2b2b" font-weight="bold" text-anchor="middle" textLength="44.4" lengthAdjust="spacingAndGlyphs" >Expired</text>
<rect x="951.1" y="337.5" width="128.7" height="159" fill="#fff" stroke="#d8d8d8" stroke-width="1" />
<g transform="translate(998.7,362.4) scale(0.985)" fill="none" stroke-linecap="round" stroke-linejoin="round">
<path d="M0,9.5 V3.8 Q0,0 3.8,0 H27.2 Q28.3,0 29.2,0.9 L36.1,7.8 Q37,8.7 37,9.8 V41.7 Q37,45.5 33.2,45.5 H3.8 Q0,45.5 0,41.7 V27.5" stroke="#ababab" stroke-width="1.45"/>
<path d="M12.6,13.4 H24.2 M12.6,17.8 H27.6 M12.6,22.1 H24.9" stroke="#b0b0b0" stroke-width="1.05"/>
<path d="M8.2,32.2 l2.8,3 M11,32.2 l-2.8,3" stroke="#8c8c8c" stroke-width="0.85"/>
<path d="M13,35.9 C13.8,33 15.6,29.7 17.3,29.3 C18.7,29.3 17.3,33.4 16.1,35.7 C17,33.8 19.6,31.7 20.6,32.5 C21.3,33.2 20,35.2 21,35.6 C22.2,35.8 23,34.3 24.4,34 C25.8,33.8 26.8,34.2 27.8,34.4" stroke="#7c7c7c" stroke-width="1"/>
<path d="M8,38.1 H30.1" stroke="#adadad" stroke-width="0.95"/>
<path d="M-7.6,10.8 L7.8,25.4 M7.8,10.8 L-7.6,25.4" stroke="#4b41cf" stroke-width="1.75"/>
</g>
<text x="1015.4" y="445.5" font-size="27.8" fill="#3d3d3d" font-weight="normal" text-anchor="middle" textLength="30" lengthAdjust="spacingAndGlyphs" class="thin">43</text>
<text x="1015.4" y="466.8" font-size="12.8" fill="#2b2b2b" font-weight="bold" text-anchor="middle" textLength="56.4" lengthAdjust="spacingAndGlyphs" >Cancelled</text>
<rect x="1087.4" y="337.5" width="128.7" height="159" fill="#fff" stroke="#d8d8d8" stroke-width="1" />
<g transform="translate(1136.2,363.2) scale(0.985)" fill="none" stroke-linecap="round" stroke-linejoin="round">
<path d="M0,6 V3.8 Q0,0 3.8,0 H27.2 Q28.3,0 29.2,0.9 L36.1,7.8 Q37,8.7 37,9.8 V41.7 Q37,45.5 33.2,45.5 H3.8 Q0,45.5 0,41.7 V26" stroke="#ababab" stroke-width="1.45"/>
<path d="M12.6,13.4 H24.2 M12.6,17.8 H27.6 M12.6,22.1 H24.9" stroke="#b0b0b0" stroke-width="1.05"/>
<path d="M8.2,32.2 l2.8,3 M11,32.2 l-2.8,3" stroke="#8c8c8c" stroke-width="0.85"/>
<path d="M13,35.9 C13.8,33 15.6,29.7 17.3,29.3 C18.7,29.3 17.3,33.4 16.1,35.7 C17,33.8 19.6,31.7 20.6,32.5 C21.3,33.2 20,35.2 21,35.6 C22.2,35.8 23,34.3 24.4,34 C25.8,33.8 26.8,34.2 27.8,34.4" stroke="#7c7c7c" stroke-width="1"/>
<path d="M8,38.1 H30.1" stroke="#adadad" stroke-width="0.95"/>
<rect x="-9.6" y="10" width="20.2" height="12.3" rx="3.2" fill="url(#hatch)" stroke="#4b41cf" stroke-width="1.65"/>
</g>
<text x="1151.9" y="445.5" font-size="27.8" fill="#3d3d3d" font-weight="normal" text-anchor="middle" textLength="16.4" lengthAdjust="spacingAndGlyphs" class="thin">0</text>
<text x="1151.9" y="466.8" font-size="12.8" fill="#2b2b2b" font-weight="bold" text-anchor="middle" textLength="44.3" lengthAdjust="spacingAndGlyphs" >Deleted</text>
<rect x="405.9" y="505.5" width="401.8" height="343.8" fill="#fff" stroke="#d8d8d8" stroke-width="1" />
<text x="418.7" y="536.8" font-size="13.4" fill="#2b2b2b" font-weight="bold" text-anchor="start" textLength="145.5" lengthAdjust="spacingAndGlyphs" >Transaction volume trend</text>
<text x="455.5" y="559.6" font-size="9.4" fill="#2b2b2b" font-weight="bold" text-anchor="start" textLength="78.2" lengthAdjust="spacingAndGlyphs" >Agreement status</text>
<circle cx="460.6" cy="570.6" r="4.8" fill="#04bcc6"/>
<text x="469.2" y="573.5" font-size="8.45" fill="#3a3a3a" font-weight="normal" text-anchor="start" >Completed</text>
<circle cx="526.7" cy="570.6" r="4.8" fill="#9189f9"/>
<text x="535.6" y="573.5" font-size="8.45" fill="#3a3a3a" font-weight="normal" text-anchor="start" >Cancelled</text>
<circle cx="587.7" cy="570.6" r="4.8" fill="#e8861c"/>
<text x="596.6" y="573.5" font-size="8.45" fill="#3a3a3a" font-weight="normal" text-anchor="start" >Expired</text>
<circle cx="460.6" cy="584" r="4.8" fill="#5044d0"/>
<text x="469.2" y="586.9" font-size="8.45" fill="#3a3a3a" font-weight="normal" text-anchor="start" >In Progress</text>
<circle cx="526.7" cy="584" r="4.8" fill="#2a7fe8"/>
<text x="535.6" y="586.9" font-size="8.45" fill="#3a3a3a" font-weight="normal" text-anchor="start" >Deleted</text>
<path d="M455.50,605.9 V808.2 M466.98,605.9 V808.2 M478.45,605.9 V808.2 M489.93,605.9 V808.2 M501.40,605.9 V808.2 M512.88,605.9 V808.2 M524.36,605.9 V808.2 M535.83,605.9 V808.2 M547.31,605.9 V808.2 M558.78,605.9 V808.2 M570.26,605.9 V808.2 M581.73,605.9 V808.2 M593.21,605.9 V808.2 M604.69,605.9 V808.2 M616.16,605.9 V808.2 M627.64,605.9 V808.2 M639.11,605.9 V808.2 M650.59,605.9 V808.2 M662.07,605.9 V808.2 M673.54,605.9 V808.2 M685.02,605.9 V808.2 M696.49,605.9 V808.2 M707.97,605.9 V808.2 M719.44,605.9 V808.2 M730.92,605.9 V808.2 M742.40,605.9 V808.2 M753.87,605.9 V808.2 M765.35,605.9 V808.2 M776.82,605.9 V808.2 M788.30,605.9 V808.2 M455.5,808.20 H788.3 M455.5,785.72 H788.3 M455.5,763.24 H788.3 M455.5,740.77 H788.3 M455.5,718.29 H788.3 M455.5,695.81 H788.3 M455.5,673.33 H788.3 M455.5,650.86 H788.3 M455.5,628.38 H788.3 M455.5,605.90 H788.3" stroke="#e4e4e4" stroke-width="1" fill="none"/>
<text x="450.3" y="811.2" font-size="8.45" fill="#2c2c2c" font-weight="normal" text-anchor="end" >0</text>
<text x="450.3" y="788.72" font-size="8.45" fill="#2c2c2c" font-weight="normal" text-anchor="end" >50</text>
<text x="450.3" y="766.24" font-size="8.45" fill="#2c2c2c" font-weight="normal" text-anchor="end" >100</text>
<text x="450.3" y="743.77" font-size="8.45" fill="#2c2c2c" font-weight="normal" text-anchor="end" >150</text>
<text x="450.3" y="721.29" font-size="8.45" fill="#2c2c2c" font-weight="normal" text-anchor="end" >200</text>
<text x="450.3" y="698.81" font-size="8.45" fill="#2c2c2c" font-weight="normal" text-anchor="end" >250</text>
<text x="450.3" y="676.33" font-size="8.45" fill="#2c2c2c" font-weight="normal" text-anchor="end" >300</text>
<text x="450.3" y="653.86" font-size="8.45" fill="#2c2c2c" font-weight="normal" text-anchor="end" >350</text>
<text x="450.3" y="631.38" font-size="8.45" fill="#2c2c2c" font-weight="normal" text-anchor="end" >400</text>
<text x="450.3" y="608.9" font-size="8.45" fill="#2c2c2c" font-weight="normal" text-anchor="end" >450</text>
<path d="M450.9,808.20 H455.5 M450.9,785.72 H455.5 M450.9,763.24 H455.5 M450.9,740.77 H455.5 M450.9,718.29 H455.5 M450.9,695.81 H455.5 M450.9,673.33 H455.5 M450.9,650.86 H455.5 M450.9,628.38 H455.5 M450.9,605.90 H455.5 M455.50,808.2 V812.6 M466.98,808.2 V812.6 M478.45,808.2 V812.6 M489.93,808.2 V812.6 M501.40,808.2 V812.6 M512.88,808.2 V812.6 M524.36,808.2 V812.6 M535.83,808.2 V812.6 M547.31,808.2 V812.6 M558.78,808.2 V812.6 M570.26,808.2 V812.6 M581.73,808.2 V812.6 M593.21,808.2 V812.6 M604.69,808.2 V812.6 M616.16,808.2 V812.6 M627.64,808.2 V812.6 M639.11,808.2 V812.6 M650.59,808.2 V812.6 M662.07,808.2 V812.6 M673.54,808.2 V812.6 M685.02,808.2 V812.6 M696.49,808.2 V812.6 M707.97,808.2 V812.6 M719.44,808.2 V812.6 M730.92,808.2 V812.6 M742.40,808.2 V812.6 M753.87,808.2 V812.6 M765.35,808.2 V812.6 M776.82,808.2 V812.6 M788.30,808.2 V812.6 M455.5,605.9 V808.2 H788.3" stroke="#909090" stroke-width="0.9" fill="none"/>
<text x="456.7" y="822" font-size="8.45" fill="#2c2c2c" font-weight="normal" text-anchor="start" >16 Wed</text>
<text x="501.4" y="822" font-size="8.45" fill="#2c2c2c" font-weight="normal" text-anchor="middle" >20 Sun</text>
<text x="547.31" y="822" font-size="8.45" fill="#2c2c2c" font-weight="normal" text-anchor="middle" >24 Thu</text>
<text x="593.21" y="822" font-size="8.45" fill="#2c2c2c" font-weight="normal" text-anchor="middle" >28 Mon</text>
<text x="639.11" y="822" font-size="8.45" fill="#2c2c2c" font-weight="normal" text-anchor="middle" >4 Fri</text>
<text x="685.02" y="822" font-size="8.45" fill="#2c2c2c" font-weight="normal" text-anchor="middle" >8 Tue</text>
<text x="730.92" y="822" font-size="8.45" fill="#2c2c2c" font-weight="normal" text-anchor="middle" >12 Sat</text>
<text x="776.82" y="822" font-size="8.45" fill="#2c2c2c" font-weight="normal" text-anchor="middle" >16 Wed</text>
<path d="M455.50,799.21 L466.98,800.56 L478.45,804.15 L489.93,807.30 L501.40,807.75 L512.88,802.81 L524.36,794.71 L535.83,797.41 L547.31,796.96 L558.78,801.91 L570.26,806.85 L581.73,807.75 L593.21,792.02 L604.69,615.79 L616.16,796.06 L627.64,797.86 L639.11,797.86 L650.59,806.85 L662.07,804.15 L673.54,804.15 L685.02,801.01 L696.49,782.13 L707.97,796.51 L719.44,803.70 L730.92,807.75 L742.40,807.75 L753.87,801.46 L765.35,794.26 L776.82,801.01 L788.30,802.81" stroke="#04bcc6" stroke-width="1.75" fill="none" stroke-linejoin="round"/>
<g fill="#04bcc6"><circle cx="455.50" cy="799.21" r="2.45"/><circle cx="466.98" cy="800.56" r="2.45"/><circle cx="478.45" cy="804.15" r="2.45"/><circle cx="489.93" cy="807.30" r="2.45"/><circle cx="501.40" cy="807.75" r="2.45"/><circle cx="512.88" cy="802.81" r="2.45"/><circle cx="524.36" cy="794.71" r="2.45"/><circle cx="535.83" cy="797.41" r="2.45"/><circle cx="547.31" cy="796.96" r="2.45"/><circle cx="558.78" cy="801.91" r="2.45"/><circle cx="570.26" cy="806.85" r="2.45"/><circle cx="581.73" cy="807.75" r="2.45"/><circle cx="593.21" cy="792.02" r="2.45"/><circle cx="604.69" cy="615.79" r="2.45"/><circle cx="616.16" cy="796.06" r="2.45"/><circle cx="627.64" cy="797.86" r="2.45"/><circle cx="639.11" cy="797.86" r="2.45"/><circle cx="650.59" cy="806.85" r="2.45"/><circle cx="662.07" cy="804.15" r="2.45"/><circle cx="673.54" cy="804.15" r="2.45"/><circle cx="685.02" cy="801.01" r="2.45"/><circle cx="696.49" cy="782.13" r="2.45"/><circle cx="707.97" cy="796.51" r="2.45"/><circle cx="719.44" cy="803.70" r="2.45"/><circle cx="730.92" cy="807.75" r="2.45"/><circle cx="742.40" cy="807.75" r="2.45"/><circle cx="753.87" cy="801.46" r="2.45"/><circle cx="765.35" cy="794.26" r="2.45"/><circle cx="776.82" cy="801.01" r="2.45"/><circle cx="788.30" cy="802.81" r="2.45"/></g>
<path d="M455.50,801.91 L466.98,797.86 L478.45,805.95 L489.93,806.40 L501.40,807.75 L512.88,806.85 L524.36,796.96 L535.83,805.95 L547.31,801.46 L558.78,806.85 L570.26,807.75 L581.73,807.75 L593.21,801.01 L604.69,791.57 L616.16,805.95 L627.64,804.60 L639.11,804.15 L650.59,807.30 L662.07,807.75 L673.54,807.30 L685.02,799.21 L696.49,804.15 L707.97,806.40 L719.44,805.95 L730.92,807.75 L742.40,807.75 L753.87,801.91 L765.35,800.11 L776.82,802.36 L788.30,804.60" stroke="#5044d0" stroke-width="1.75" fill="none" stroke-linejoin="round"/>
<g fill="#5044d0"><circle cx="455.50" cy="801.91" r="2.45"/><circle cx="466.98" cy="797.86" r="2.45"/><circle cx="478.45" cy="805.95" r="2.45"/><circle cx="489.93" cy="806.40" r="2.45"/><circle cx="501.40" cy="807.75" r="2.45"/><circle cx="512.88" cy="806.85" r="2.45"/><circle cx="524.36" cy="796.96" r="2.45"/><circle cx="535.83" cy="805.95" r="2.45"/><circle cx="547.31" cy="801.46" r="2.45"/><circle cx="558.78" cy="806.85" r="2.45"/><circle cx="570.26" cy="807.75" r="2.45"/><circle cx="581.73" cy="807.75" r="2.45"/><circle cx="593.21" cy="801.01" r="2.45"/><circle cx="604.69" cy="791.57" r="2.45"/><circle cx="616.16" cy="805.95" r="2.45"/><circle cx="627.64" cy="804.60" r="2.45"/><circle cx="639.11" cy="804.15" r="2.45"/><circle cx="650.59" cy="807.30" r="2.45"/><circle cx="662.07" cy="807.75" r="2.45"/><circle cx="673.54" cy="807.30" r="2.45"/><circle cx="685.02" cy="799.21" r="2.45"/><circle cx="696.49" cy="804.15" r="2.45"/><circle cx="707.97" cy="806.40" r="2.45"/><circle cx="719.44" cy="805.95" r="2.45"/><circle cx="730.92" cy="807.75" r="2.45"/><circle cx="742.40" cy="807.75" r="2.45"/><circle cx="753.87" cy="801.91" r="2.45"/><circle cx="765.35" cy="800.11" r="2.45"/><circle cx="776.82" cy="802.36" r="2.45"/><circle cx="788.30" cy="804.60" r="2.45"/></g>
<path d="M455.50,807.30 L466.98,806.85 L478.45,807.75 L489.93,807.75 L501.40,808.20 L512.88,807.75 L524.36,807.30 L535.83,807.75 L547.31,807.30 L558.78,807.75 L570.26,807.75 L581.73,808.20 L593.21,807.30 L604.69,806.85 L616.16,807.30 L627.64,807.30 L639.11,807.75 L650.59,807.75 L662.07,807.75 L673.54,807.75 L685.02,807.30 L696.49,806.85 L707.97,807.30 L719.44,807.75 L730.92,808.20 L742.40,808.20 L753.87,807.75 L765.35,807.30 L776.82,807.30 L788.30,807.75" stroke="#9189f9" stroke-width="1.75" fill="none" stroke-linejoin="round"/>
<g fill="#9189f9"><circle cx="455.50" cy="807.30" r="2.45"/><circle cx="466.98" cy="806.85" r="2.45"/><circle cx="478.45" cy="807.75" r="2.45"/><circle cx="489.93" cy="807.75" r="2.45"/><circle cx="501.40" cy="808.20" r="2.45"/><circle cx="512.88" cy="807.75" r="2.45"/><circle cx="524.36" cy="807.30" r="2.45"/><circle cx="535.83" cy="807.75" r="2.45"/><circle cx="547.31" cy="807.30" r="2.45"/><circle cx="558.78" cy="807.75" r="2.45"/><circle cx="570.26" cy="807.75" r="2.45"/><circle cx="581.73" cy="808.20" r="2.45"/><circle cx="593.21" cy="807.30" r="2.45"/><circle cx="604.69" cy="806.85" r="2.45"/><circle cx="616.16" cy="807.30" r="2.45"/><circle cx="627.64" cy="807.30" r="2.45"/><circle cx="639.11" cy="807.75" r="2.45"/><circle cx="650.59" cy="807.75" r="2.45"/><circle cx="662.07" cy="807.75" r="2.45"/><circle cx="673.54" cy="807.75" r="2.45"/><circle cx="685.02" cy="807.30" r="2.45"/><circle cx="696.49" cy="806.85" r="2.45"/><circle cx="707.97" cy="807.30" r="2.45"/><circle cx="719.44" cy="807.75" r="2.45"/><circle cx="730.92" cy="808.20" r="2.45"/><circle cx="742.40" cy="808.20" r="2.45"/><circle cx="753.87" cy="807.75" r="2.45"/><circle cx="765.35" cy="807.30" r="2.45"/><circle cx="776.82" cy="807.30" r="2.45"/><circle cx="788.30" cy="807.75" r="2.45"/></g>
<path d="M455.50,808.20 L466.98,808.20 L478.45,808.20 L489.93,808.20 L501.40,808.20 L512.88,808.20 L524.36,808.20 L535.83,808.20 L547.31,808.20 L558.78,808.20 L570.26,808.20 L581.73,808.20 L593.21,808.20 L604.69,808.20 L616.16,808.20 L627.64,808.20 L639.11,808.20 L650.59,808.20 L662.07,808.20 L673.54,808.20 L685.02,808.20 L696.49,808.20 L707.97,808.20 L719.44,808.20 L730.92,808.20 L742.40,808.20 L753.87,808.20 L765.35,808.20 L776.82,808.20 L788.30,808.20" stroke="#2a7fe8" stroke-width="1.75" fill="none" stroke-linejoin="round"/>
<g fill="#2a7fe8"><circle cx="455.50" cy="808.20" r="2.45"/><circle cx="466.98" cy="808.20" r="2.45"/><circle cx="478.45" cy="808.20" r="2.45"/><circle cx="489.93" cy="808.20" r="2.45"/><circle cx="501.40" cy="808.20" r="2.45"/><circle cx="512.88" cy="808.20" r="2.45"/><circle cx="524.36" cy="808.20" r="2.45"/><circle cx="535.83" cy="808.20" r="2.45"/><circle cx="547.31" cy="808.20" r="2.45"/><circle cx="558.78" cy="808.20" r="2.45"/><circle cx="570.26" cy="808.20" r="2.45"/><circle cx="581.73" cy="808.20" r="2.45"/><circle cx="593.21" cy="808.20" r="2.45"/><circle cx="604.69" cy="808.20" r="2.45"/><circle cx="616.16" cy="808.20" r="2.45"/><circle cx="627.64" cy="808.20" r="2.45"/><circle cx="639.11" cy="808.20" r="2.45"/><circle cx="650.59" cy="808.20" r="2.45"/><circle cx="662.07" cy="808.20" r="2.45"/><circle cx="673.54" cy="808.20" r="2.45"/><circle cx="685.02" cy="808.20" r="2.45"/><circle cx="696.49" cy="808.20" r="2.45"/><circle cx="707.97" cy="808.20" r="2.45"/><circle cx="719.44" cy="808.20" r="2.45"/><circle cx="730.92" cy="808.20" r="2.45"/><circle cx="742.40" cy="808.20" r="2.45"/><circle cx="753.87" cy="808.20" r="2.45"/><circle cx="765.35" cy="808.20" r="2.45"/><circle cx="776.82" cy="808.20" r="2.45"/><circle cx="788.30" cy="808.20" r="2.45"/></g>
<path d="M455.50,808.20 L466.98,807.75 L478.45,808.20 L489.93,808.20 L501.40,808.20 L512.88,808.20 L524.36,807.75 L535.83,807.75 L547.31,807.75 L558.78,807.30 L570.26,808.20 L581.73,808.20 L593.21,808.20 L604.69,808.20 L616.16,808.20 L627.64,807.75 L639.11,808.20 L650.59,808.20 L662.07,808.20 L673.54,808.20 L685.02,808.20 L696.49,808.20 L707.97,808.20 L719.44,808.20 L730.92,808.20 L742.40,808.20 L753.87,808.20 L765.35,807.75 L776.82,807.75 L788.30,808.20" stroke="#e8861c" stroke-width="1.75" fill="none" stroke-linejoin="round"/>
<g fill="#e8861c"><circle cx="455.50" cy="808.20" r="2.45"/><circle cx="466.98" cy="807.75" r="2.45"/><circle cx="478.45" cy="808.20" r="2.45"/><circle cx="489.93" cy="808.20" r="2.45"/><circle cx="501.40" cy="808.20" r="2.45"/><circle cx="512.88" cy="808.20" r="2.45"/><circle cx="524.36" cy="807.75" r="2.45"/><circle cx="535.83" cy="807.75" r="2.45"/><circle cx="547.31" cy="807.75" r="2.45"/><circle cx="558.78" cy="807.30" r="2.45"/><circle cx="570.26" cy="808.20" r="2.45"/><circle cx="581.73" cy="808.20" r="2.45"/><circle cx="593.21" cy="808.20" r="2.45"/><circle cx="604.69" cy="808.20" r="2.45"/><circle cx="616.16" cy="808.20" r="2.45"/><circle cx="627.64" cy="807.75" r="2.45"/><circle cx="639.11" cy="808.20" r="2.45"/><circle cx="650.59" cy="808.20" r="2.45"/><circle cx="662.07" cy="808.20" r="2.45"/><circle cx="673.54" cy="808.20" r="2.45"/><circle cx="685.02" cy="808.20" r="2.45"/><circle cx="696.49" cy="808.20" r="2.45"/><circle cx="707.97" cy="808.20" r="2.45"/><circle cx="719.44" cy="808.20" r="2.45"/><circle cx="730.92" cy="808.20" r="2.45"/><circle cx="742.40" cy="808.20" r="2.45"/><circle cx="753.87" cy="808.20" r="2.45"/><circle cx="765.35" cy="807.75" r="2.45"/><circle cx="776.82" cy="807.75" r="2.45"/><circle cx="788.30" cy="808.20" r="2.45"/></g>
<text transform="translate(431.4,707.4) rotate(-90)" font-size="9.2" fill="#2c2c2c" font-weight="bold" text-anchor="middle" textLength="57" lengthAdjust="spacingAndGlyphs">Transactions</text>
<text x="621.8" y="833.8" font-size="9.4" fill="#2b2b2b" font-weight="bold" text-anchor="middle" textLength="73" lengthAdjust="spacingAndGlyphs" >Transaction date</text>
<rect x="815" y="505.5" width="401.5" height="343.8" fill="#fff" stroke="#d8d8d8" stroke-width="1" />
<text x="828.6" y="536.6" font-size="13.4" fill="#2b2b2b" font-weight="bold" text-anchor="start" textLength="124" lengthAdjust="spacingAndGlyphs" >Transactions by group</text>
<text x="909.2" y="560" font-size="9.4" fill="#2b2b2b" font-weight="bold" text-anchor="start" textLength="78" lengthAdjust="spacingAndGlyphs" >Agreement status</text>
<rect x="909.8" y="566.8" width="8" height="8" fill="#04bcc6" />
<text x="922.9" y="573.6999999999999" font-size="8.45" fill="#3a3a3a" font-weight="normal" text-anchor="start" >Completed</text>
<rect x="975.2" y="566.8" width="8" height="8" fill="#9189f9" />
<text x="988.3" y="573.6999999999999" font-size="8.45" fill="#3a3a3a" font-weight="normal" text-anchor="start" >Cancelled</text>
<rect x="1035.2" y="566.8" width="8" height="8" fill="#e8861c" />
<text x="1048" y="573.6999999999999" font-size="8.45" fill="#3a3a3a" font-weight="normal" text-anchor="start" >Expired</text>
<rect x="909.8" y="578" width="8" height="8" fill="#5044d0" />
<text x="922.9" y="584.9" font-size="8.45" fill="#3a3a3a" font-weight="normal" text-anchor="start" >In Progress</text>
<rect x="975.2" y="578" width="8" height="8" fill="#2a7fe8" />
<text x="988.3" y="584.9" font-size="8.45" fill="#3a3a3a" font-weight="normal" text-anchor="start" >Deleted</text>
<path d="M909.20,601.3 V808 M933.39,601.3 V808 M957.58,601.3 V808 M981.78,601.3 V808 M1005.97,601.3 V808 M1030.16,601.3 V808 M1054.35,601.3 V808 M1078.54,601.3 V808 M1102.73,601.3 V808 M1126.92,601.3 V808 M1151.12,601.3 V808 M1175.31,601.3 V808 M1199.50,601.3 V808" stroke="#e4e4e4" stroke-width="1" fill="none"/>
<line x1="909.2" y1="601.3" x2="1199.5" y2="601.3" stroke="#e4e4e4" stroke-width="1" />
<text x="903.0" y="611.75" font-size="8.4" fill="#2c2c2c" font-weight="normal" text-anchor="end" >EMEA ERC</text>
<text x="903.0" y="627.65" font-size="8.4" fill="#2c2c2c" font-weight="normal" text-anchor="end" >Default Group</text>
<text x="903.0" y="643.55" font-size="8.4" fill="#2c2c2c" font-weight="normal" text-anchor="end" >Sales Team</text>
<text x="903.0" y="659.45" font-size="8.4" fill="#2c2c2c" font-weight="normal" text-anchor="end" >DME CS... Ops</text>
<text x="903.0" y="675.35" font-size="8.4" fill="#2c2c2c" font-weight="normal" text-anchor="end" >gossma....com</text>
<text x="903.0" y="691.25" font-size="8.4" fill="#2c2c2c" font-weight="normal" text-anchor="end" >Support</text>
<text x="903.0" y="707.15" font-size="8.4" fill="#2c2c2c" font-weight="normal" text-anchor="end" >Client...cess</text>
<text x="903.0" y="723.05" font-size="8.4" fill="#2c2c2c" font-weight="normal" text-anchor="end" >JV ODM</text>
<text x="903.0" y="738.95" font-size="8.4" fill="#2c2c2c" font-weight="normal" text-anchor="end" >CPOC</text>
<text x="903.0" y="754.85" font-size="8.4" fill="#2c2c2c" font-weight="normal" text-anchor="end" >Dev</text>
<text x="903.0" y="770.75" font-size="8.4" fill="#2c2c2c" font-weight="normal" text-anchor="end" >QA</text>
<text x="903.0" y="786.65" font-size="8.4" fill="#2c2c2c" font-weight="normal" text-anchor="end" >test</text>
<text x="903.0" y="802.55" font-size="8.4" fill="#2c2c2c" font-weight="normal" text-anchor="end" >TechOps</text>
<path d="M909.2,808 H1199.5 M909.20,808 V812.4 M933.39,808 V812.4 M957.58,808 V812.4 M981.78,808 V812.4 M1005.97,808 V812.4 M1030.16,808 V812.4 M1054.35,808 V812.4 M1078.54,808 V812.4 M1102.73,808 V812.4 M1126.92,808 V812.4 M1151.12,808 V812.4 M1175.31,808 V812.4 M1199.50,808 V812.4 M904.6,609.25 H909.2 M904.6,625.15 H909.2 M904.6,641.05 H909.2 M904.6,656.95 H909.2 M904.6,672.85 H909.2 M904.6,688.75 H909.2 M904.6,704.65 H909.2 M904.6,720.55 H909.2 M904.6,736.45 H909.2 M904.6,752.35 H909.2 M904.6,768.25 H909.2 M904.6,784.15 H909.2 M904.6,800.05 H909.2" stroke="#8a8a8a" stroke-width="0.9" fill="none"/>
<text x="909.8" y="821.9" font-size="8.45" fill="#2c2c2c" font-weight="normal" text-anchor="start" >0</text>
<text x="933.39" y="821.9" font-size="8.45" fill="#2c2c2c" font-weight="normal" text-anchor="middle" >50</text>
<text x="957.58" y="821.9" font-size="8.45" fill="#2c2c2c" font-weight="normal" text-anchor="middle" >100</text>
<text x="981.78" y="821.9" font-size="8.45" fill="#2c2c2c" font-weight="normal" text-anchor="middle" >150</text>
<text x="1005.97" y="821.9" font-size="8.45" fill="#2c2c2c" font-weight="normal" text-anchor="middle" >200</text>
<text x="1030.16" y="821.9" font-size="8.45" fill="#2c2c2c" font-weight="normal" text-anchor="middle" >250</text>
<text x="1054.35" y="821.9" font-size="8.45" fill="#2c2c2c" font-weight="normal" text-anchor="middle" >300</text>
<text x="1078.54" y="821.9" font-size="8.45" fill="#2c2c2c" font-weight="normal" text-anchor="middle" >350</text>
<text x="1102.73" y="821.9" font-size="8.45" fill="#2c2c2c" font-weight="normal" text-anchor="middle" >400</text>
<text x="1126.92" y="821.9" font-size="8.45" fill="#2c2c2c" font-weight="normal" text-anchor="middle" >450</text>
<text x="1151.12" y="821.9" font-size="8.45" fill="#2c2c2c" font-weight="normal" text-anchor="middle" >500</text>
<text x="1175.31" y="821.9" font-size="8.45" fill="#2c2c2c" font-weight="normal" text-anchor="middle" >550</text>
<text x="1199.9" y="821.9" font-size="8.45" fill="#2c2c2c" font-weight="normal" text-anchor="end" >600</text>
<rect x="909.2" y="602.1" width="6.05" height="14" fill="#9189f9" />
<rect x="915.25" y="602.1" width="249.42" height="14" fill="#04bcc6" />
<rect x="1168.05" y="602.1" width="24.68" height="14" fill="#5044d0" />
<rect x="909.2" y="618.0" width="11.13" height="14" fill="#9189f9" />
<rect x="920.33" y="618.0" width="155.31" height="14" fill="#04bcc6" />
<rect x="1077.33" y="618.0" width="2.18" height="14" fill="#e8861c" />
<rect x="1079.51" y="618.0" width="88.54" height="14" fill="#5044d0" />
<rect x="909.2" y="633.9" width="1.69" height="14" fill="#9189f9" />
<rect x="910.89" y="633.9" width="7.26" height="14" fill="#04bcc6" />
<rect x="918.15" y="633.9" width="1.69" height="14" fill="#e8861c" />
<rect x="919.84" y="633.9" width="3.39" height="14" fill="#5044d0" />
<rect x="909.2" y="649.8" width="2.9" height="14" fill="#04bcc6" />
<rect x="912.1" y="649.8" width="1.45" height="14" fill="#5044d0" />
<rect x="909.2" y="665.7" width="2.66" height="14" fill="#6f83ee" />
<rect x="909.2" y="681.6" width="2.42" height="14" fill="#04bcc6" />
<rect x="909.2" y="697.5" width="2.03" height="14" fill="#5044d0" />
<rect x="909.2" y="713.4" width="2.03" height="14" fill="#04bcc6" />
<rect x="909.2" y="729.3" width="1.06" height="14" fill="#04bcc6" />
<rect x="909.2" y="745.2" width="0.77" height="14" fill="#6f66ea" />
<rect x="909.2" y="761.1" width="0.77" height="14" fill="#6f66ea" />
<rect x="909.2" y="777.0" width="0.77" height="14" fill="#6f66ea" />
<rect x="909.2" y="792.9" width="0.44" height="14" fill="#04bcc6" />
<text transform="translate(841,705.4) rotate(-90)" font-size="9.2" fill="#2c2c2c" font-weight="bold" text-anchor="middle" textLength="26" lengthAdjust="spacingAndGlyphs">Group</text>
<text x="1054.4" y="833.6" font-size="9.4" fill="#2b2b2b" font-weight="bold" text-anchor="middle" textLength="57" lengthAdjust="spacingAndGlyphs" >Transactions</text>
</g>
</svg></body></html>
